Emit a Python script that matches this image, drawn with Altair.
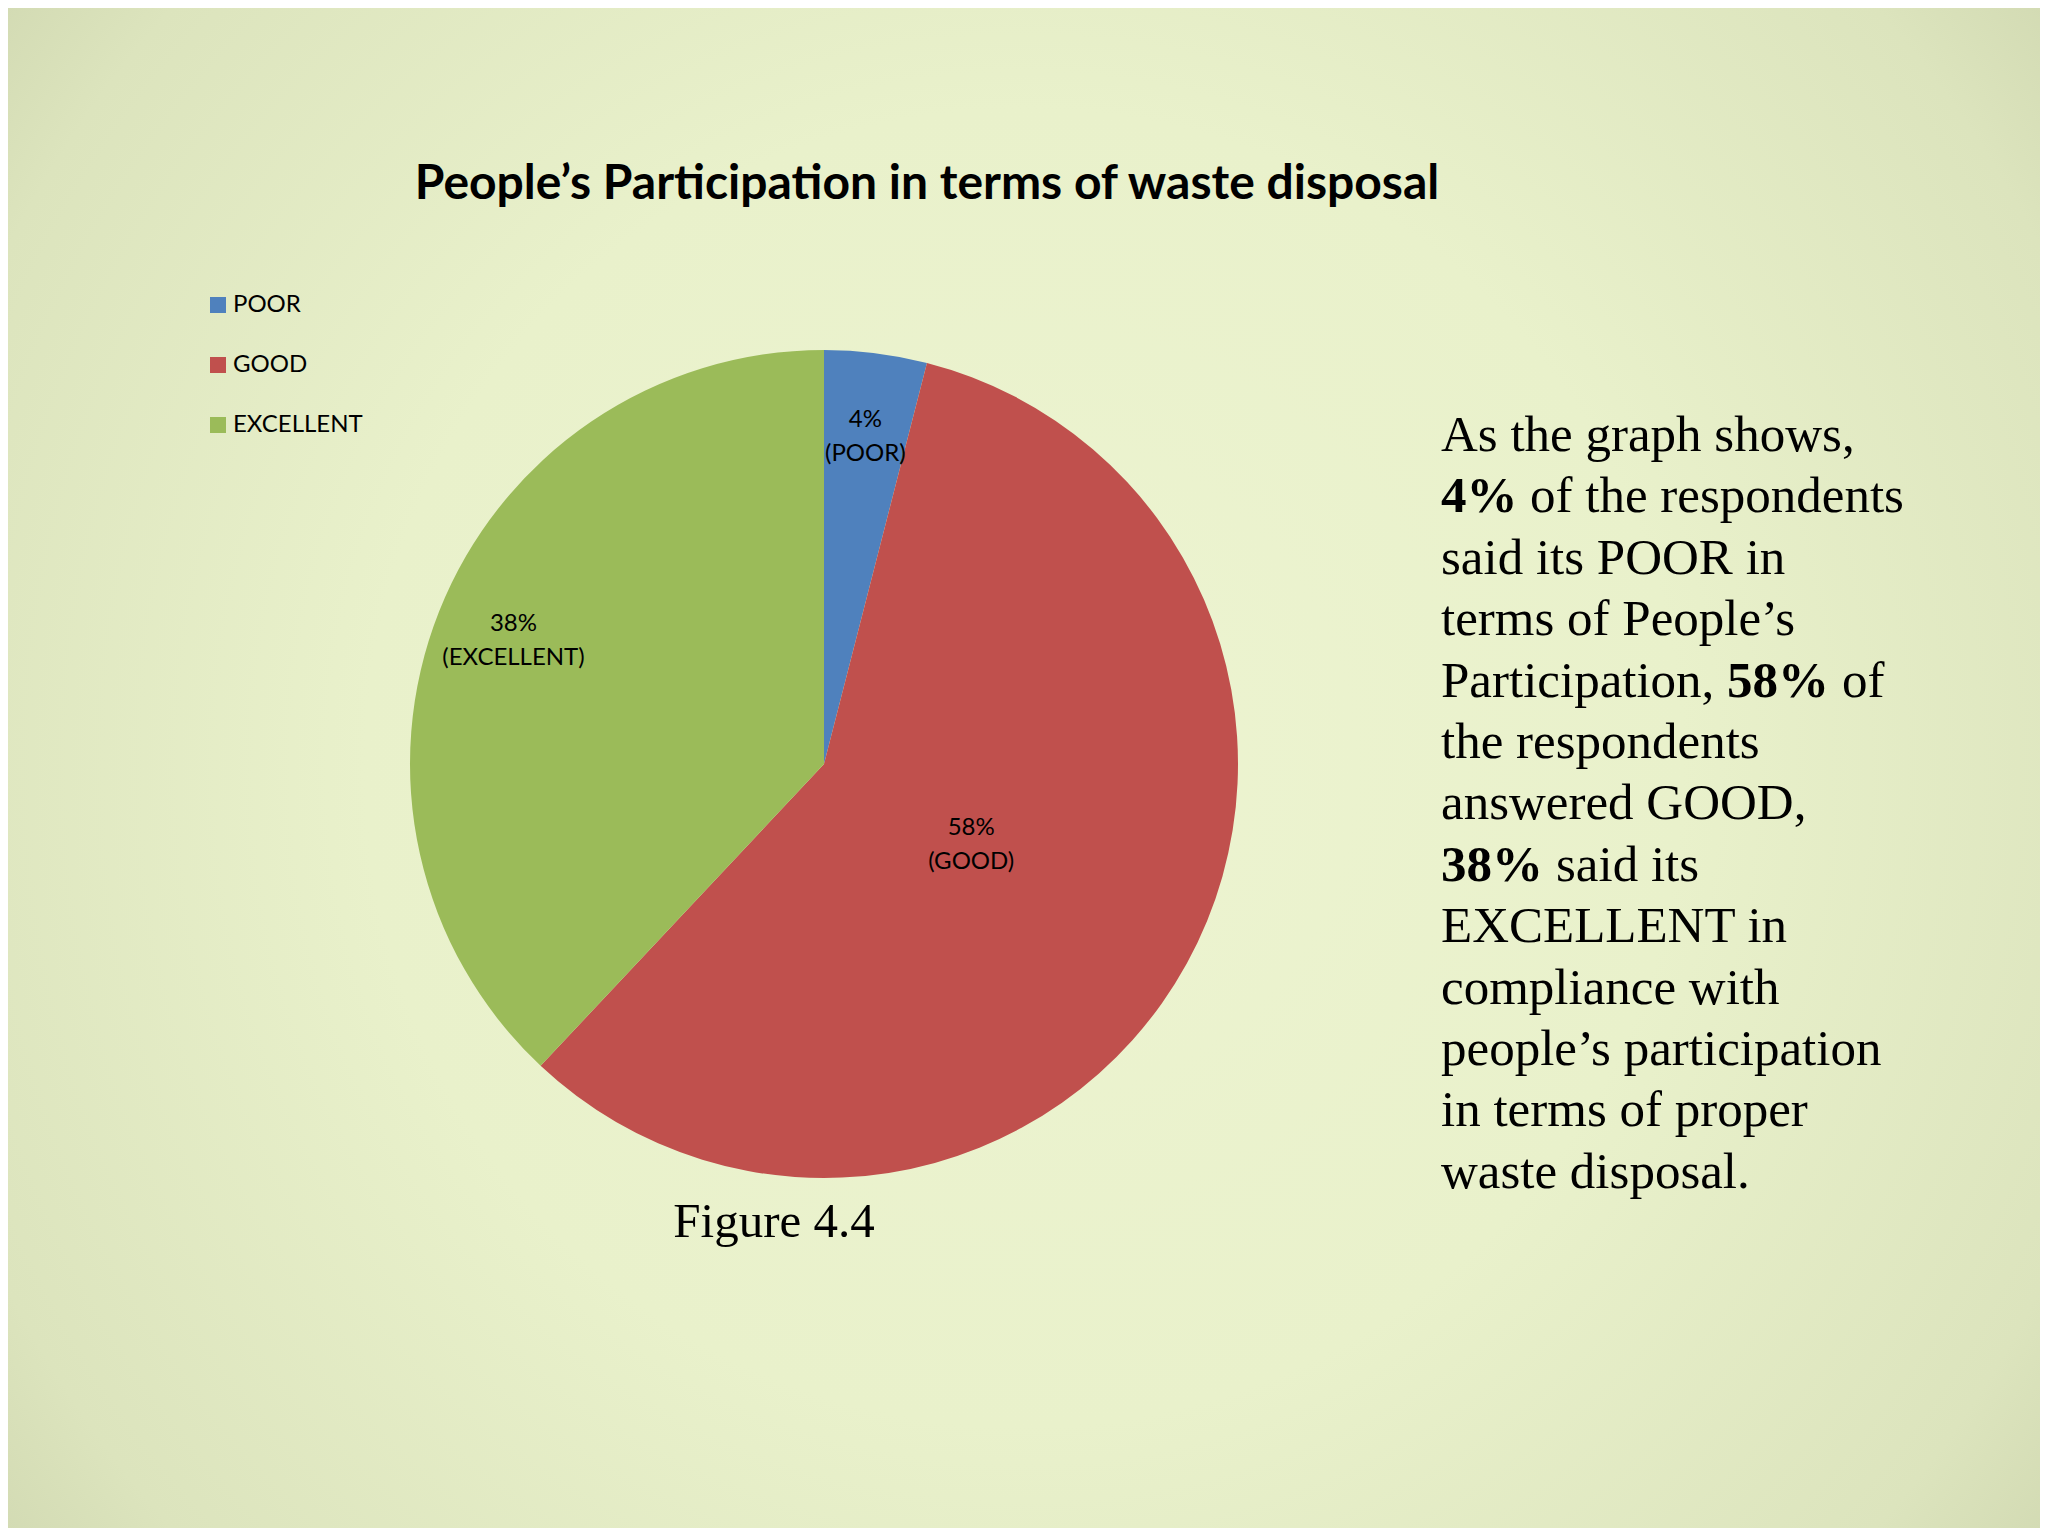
import altair as alt
import pandas as pd

# ---- data ----
categories = ["POOR", "GOOD", "EXCELLENT"]
values = [4, 58, 38]
colors = ["#4F81BD", "#C0504D", "#9BBB59"]
title_text = "People’s Participation in terms of waste disposal"
caption_text = "Figure 4.4"
paragraph = [
    [("As the graph shows,", False)],
    [("4%", True), ("of the respondents", False)],
    [("said its POOR in", False)],
    [("terms of People’s", False)],
    [("Participation,", False), ("58%", True), ("of", False)],
    [("the respondents", False)],
    [("answered GOOD,", False)],
    [("38%", True), ("said its", False)],
    [("EXCELLENT in", False)],
    [("compliance with", False)],
    [("people’s participation", False)],
    [("in terms of proper", False)],
    [("waste disposal.", False)],
]

# ---- layout ----
W, H = 2032, 1520
CX, CY, R = 816, 756, 414
SANS = "Lato"
SERIF = "Liberation Serif"
PARA_X, PARA_Y, PARA_DY, PARA_SIZE = 1433, 443, 61.4, 51
# x offsets (px) of segments within paragraph lines (Times metrics)
seg_offsets = {(1, 1): 89, (4, 1): 286, (4, 2): 401, (7, 1): 115}

pie_df = pd.DataFrame({
    "category": categories,
    "value": values,
    "order": list(range(len(categories))),
})

bg = alt.Chart(pd.DataFrame({"a": [0]})).mark_rect(
    fill={
        "gradient": "radial",
        "x1": 0.5, "y1": 0.5, "x2": 0.5, "y2": 0.5, "r1": 0, "r2": 0.72,
        "stops": [
            {"offset": 0.0, "color": "#EDF4D1"},
            {"offset": 0.45, "color": "#E9F1CB"},
            {"offset": 0.78, "color": "#DCE4BD"},
            {"offset": 1.0, "color": "#C6CEA6"},
        ],
    }
).encode(x=alt.value(0), x2=alt.value(W), y=alt.value(0), y2=alt.value(H))

stacked = alt.Chart(pie_df).transform_stack(
    stack="value", groupby=[], as_=["v0", "v1"],
    sort=[alt.SortField("order", order="ascending")],
)

theta_scale = alt.Scale(domain=[0, sum(values)])

pie = stacked.mark_arc(radius=R).encode(
    x=alt.value(CX),
    y=alt.value(CY),
    theta=alt.Theta("v0:Q", scale=theta_scale),
    theta2="v1:Q",
    color=alt.Color(
        "category:N",
        scale=alt.Scale(domain=categories, range=colors),
        legend=alt.Legend(
            title=None, orient="none", legendX=198, legendY=285,
            symbolType="square", symbolSize=256, symbolStrokeWidth=0,
            symbolOpacity=1, labelFont=SANS, labelFontSize=24,
            labelColor="black", labelOffset=3, rowPadding=36, padding=0,
        ),
    ),
)

labels = stacked.transform_calculate(
    mid="(datum.v0 + datum.v1) / 2",
    label="datum.value + '%\\n(' + datum.category + ')'",
    r="datum.category == 'GOOD' ? 168 : (datum.category == 'POOR' ? 330 : 334)",
).mark_text(
    font=SANS, fontSize=24, lineBreak="\n", lineHeight=34, color="black",
    align="center", baseline="middle", dy=-17,
).encode(
    x=alt.value(CX), y=alt.value(CY),
    theta=alt.Theta("mid:Q", scale=theta_scale),
    radius=alt.Radius("r:Q", scale=None),
    text="label:N",
)


def text_layer(s, x, y, font, size, weight="normal", align="left"):
    return alt.Chart(pd.DataFrame({"t": [s]})).mark_text(
        font=font, fontSize=size, fontWeight=weight, align=align,
        baseline="alphabetic", color="black",
    ).encode(x=alt.value(x), y=alt.value(y), text="t:N")


layers = [bg, pie, labels]
layers.append(text_layer(title_text, 919, 191, SANS, 48, "bold", "center"))
layers.append(text_layer(caption_text, 766, 1229, SERIF, 49, "normal", "center"))
for i, line in enumerate(paragraph):
    for j, (seg, bold) in enumerate(line):
        layers.append(text_layer(
            seg, PARA_X + seg_offsets.get((i, j), 0), PARA_Y + i * PARA_DY,
            SERIF, PARA_SIZE, "bold" if bold else "normal",
        ))

chart = alt.layer(*layers).properties(
    width=W, height=H, padding=0, autosize="none", background="#E6EDC8",
).configure_view(stroke=None)

chart.save("out.html", embed_options={"renderer": "svg", "actions": False})
